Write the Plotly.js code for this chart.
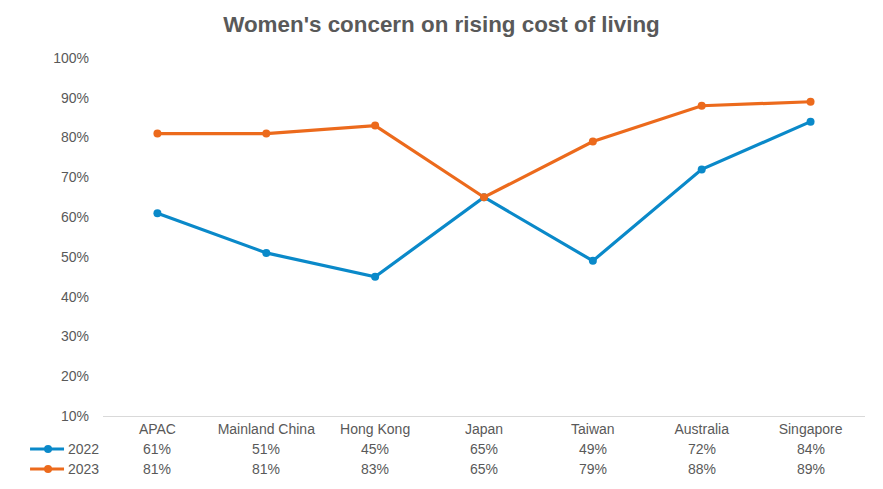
<!DOCTYPE html>
<html>
<head>
<meta charset="utf-8">
<script src="https://cdn.plot.ly/plotly-3.0.1.min.js"></script>
<style>html,body{margin:0;padding:0;background:#fff;}#chart{width:883px;height:489px;}</style>
</head>
<body>
<div id="chart"></div>
<script>
var categories = ["APAC", "Mainland China", "Hong Kong", "Japan", "Taiwan", "Australia", "Singapore"];
var seriesNames = ["2022", "2023"];
var values2022 = [61, 51, 45, 65, 49, 72, 84];
var values2023 = [81, 81, 83, 65, 79, 88, 89];
var yTickVals = [10, 20, 30, 40, 50, 60, 70, 80, 90, 100];
var yTickText = ["10%", "20%", "30%", "40%", "50%", "60%", "70%", "80%", "90%", "100%"];

var colors = ["#0A89C9", "#EC6A1C"];
var textColor = "#595959";
var fontFamily = "Liberation Sans, Arial, sans-serif";

var W = 883, H = 489;
var L = 103, R = 17.5, T = 58, B = 73;
var pw = W - L - R, ph = H - T - B;
function px2x(p){ return (p - L) / pw; }
function py2y(p){ return (H - B - p) / ph; }

var allSeries = [values2022, values2023];
var traces = allSeries.map(function(vals, i){
  return {
    x: categories, y: vals, type: "scatter", mode: "lines+markers",
    name: seriesNames[i],
    line: {color: colors[i], width: 3.2},
    marker: {color: colors[i], size: 8},
    hoverinfo: "x+y"
  };
});

var rowY = [449, 469];
var annotations = [];
var shapes = [];
allSeries.forEach(function(vals, i){
  vals.forEach(function(v, j){
    annotations.push({
      x: categories[j], xref: "x", y: py2y(rowY[i]), yref: "paper",
      text: v + "%", showarrow: false, xanchor: "center", yanchor: "middle",
      font: {family: fontFamily, size: 14, color: textColor}
    });
  });
  annotations.push({
    x: px2x(66), xref: "paper", y: py2y(rowY[i]), yref: "paper",
    text: seriesNames[i], showarrow: false, xanchor: "left", yanchor: "middle",
    font: {family: fontFamily, size: 14, color: textColor}
  });
  shapes.push({
    type: "line", xref: "paper", yref: "paper",
    x0: px2x(30), x1: px2x(64), y0: py2y(rowY[i]), y1: py2y(rowY[i]),
    line: {color: colors[i], width: 3}
  });
  shapes.push({
    type: "circle", xref: "paper", yref: "paper",
    xsizemode: "pixel", ysizemode: "pixel",
    xanchor: px2x(48), yanchor: py2y(rowY[i]),
    x0: -4, x1: 4, y0: -4, y1: 4,
    fillcolor: colors[i], line: {color: colors[i], width: 0}
  });
});

var layout = {
  width: W, height: H,
  margin: {l: L, r: R, t: T, b: B, pad: 0},
  paper_bgcolor: "#fff", plot_bgcolor: "#fff",
  showlegend: false,
  title: {
    text: "<b>Women's concern on rising cost of living</b>",
    font: {family: fontFamily, size: 22.4, color: textColor},
    x: 0.5, xanchor: "center", y: 1 - 24 / H, yanchor: "middle", yref: "container"
  },
  xaxis: {
    type: "category", range: [-0.5, 6.5],
    showgrid: false, zeroline: false,
    showline: true, linecolor: "#D9D9D9", linewidth: 1,
    ticks: "", tickfont: {family: fontFamily, size: 14, color: textColor},
    fixedrange: true
  },
  yaxis: {
    range: [10, 100], tickmode: "array", tickvals: yTickVals, ticktext: yTickText,
    showgrid: false, zeroline: false, showline: false,
    ticks: "", tickfont: {family: fontFamily, size: 14, color: textColor},
    ticklabelstandoff: 13,
    fixedrange: true
  },
  annotations: annotations,
  shapes: shapes
};

Plotly.newPlot("chart", traces, layout, {displayModeBar: false, staticPlot: true});
</script>
</body>
</html>
